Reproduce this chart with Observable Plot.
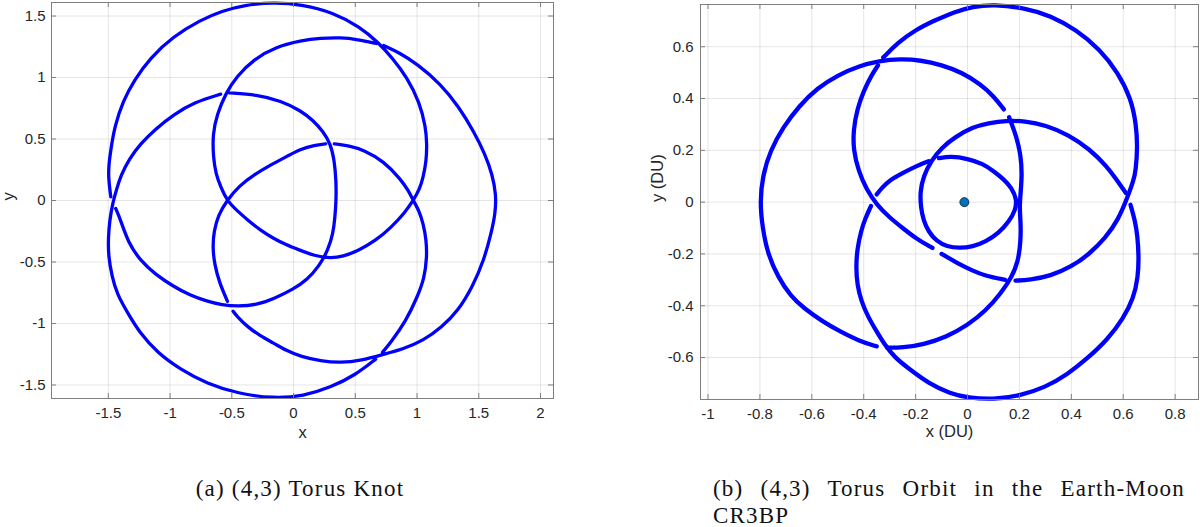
<!DOCTYPE html>
<html>
<head>
<meta charset="utf-8">
<script src="https://cdn.jsdelivr.net/npm/d3@7"></script>
<script src="https://cdn.jsdelivr.net/npm/@observablehq/plot@0.6"></script>
<style>
  html, body { margin: 0; padding: 0; background: #fff; }
  body { width: 1200px; height: 527px; overflow: hidden; position: relative; }
  #panelA, #panelB { position: absolute; top: 0; }
  #panelA { left: 0; }
  #panelB { left: 600px; }
  .cap { position: absolute; font-family: "Liberation Serif", "DejaVu Serif", serif; font-size: 23px; line-height: 27px; letter-spacing: 1.2px; color: #111; white-space: nowrap; }
</style>
</head>
<body>
<div id="panelA"></div>
<div id="panelB"></div>
<div class="cap" style="left:0; width:600px; top:475px; text-align:center;">(a) (4,3) Torus Knot</div>
<div class="cap" style="left:713px; width:472px; top:475px; text-align:justify; text-align-last:justify; white-space:normal;">(b) (4,3) Torus Orbit in the Earth-Moon</div>
<div class="cap" style="left:713px; top:502px;">CR3BP</div>
<script>
// ---------- data; null = gap at an under-crossing ----------
const knotPath = [
  [-1.48, 0.03], [-1.50, 0.19], [-1.495, 0.30], [-1.48, 0.41], [-1.45, 0.60], [-1.38, 0.81], [-1.29, 0.98],
  [-1.16, 1.16], [-0.98, 1.33], [-0.75, 1.47], [-0.58, 1.54], [-0.40, 1.59], [-0.16, 1.61], [0.06, 1.595],
  [0.32, 1.53], [0.54, 1.41], [0.68, 1.29], [0.80, 1.16], [0.92, 1.00], [1.02, 0.80], [1.07, 0.60],
  [1.08, 0.46], [1.075, 0.32], [1.05, 0.19], [1.02, 0.09], [0.97, 0], [0.90, -0.10], [0.79, -0.22],
  [0.66, -0.33], [0.52, -0.41], [0.40, -0.455], [0.30, -0.47], [0.17, -0.45], [0.04, -0.40], [-0.06, -0.36],
  [-0.16, -0.31], [-0.27, -0.24], [-0.37, -0.16], [-0.46, -0.08], [-0.54, 0], [-0.59, 0.11], [-0.63, 0.22],
  [-0.65, 0.35], [-0.655, 0.54], [-0.62, 0.70], [-0.55, 0.87], [-0.46, 1.01], [-0.32, 1.15], [-0.14, 1.25],
  [0.06, 1.30], [0.22, 1.32], [0.38, 1.325], [0.52, 1.31], [0.67, 1.277], null, [0.73, 1.26], [0.86, 1.20],
  [1.0, 1.11], [1.19, 0.95], [1.34, 0.76], [1.46, 0.56], [1.55, 0.38], [1.61, 0.21], [1.64, 0.05],
  [1.635, -0.10], [1.60, -0.27], [1.54, -0.49], [1.45, -0.70], [1.33, -0.90], [1.20, -1.03], [1.05, -1.14],
  [0.88, -1.21], [0.73, -1.25], [0.55, -1.30], [0.38, -1.32], [0.22, -1.305], [0.06, -1.27], [-0.06, -1.22],
  [-0.16, -1.16], [-0.27, -1.10], [-0.37, -1.03], [-0.455, -0.945], [-0.49, -0.90], null, [-0.535, -0.82],
  [-0.60, -0.67], [-0.64, -0.52], [-0.655, -0.38], [-0.645, -0.25], [-0.61, -0.12], [-0.54, 0], [-0.44, 0.12],
  [-0.32, 0.21], [-0.20, 0.28], [-0.08, 0.345], [0.06, 0.42], [0.17, 0.45], [0.26, 0.46], null, [0.33, 0.46],
  [0.45, 0.445], [0.57, 0.41], [0.73, 0.32], [0.87, 0.17], [0.93, 0.08], [0.97, 0], [1.02, -0.09],
  [1.05, -0.19], [1.075, -0.32], [1.08, -0.46], [1.06, -0.63], [1.0, -0.79], [0.91, -0.98], [0.79, -1.15],
  [0.72, -1.235], null, [0.665, -1.29], [0.50, -1.42], [0.30, -1.52], [0.08, -1.59], [-0.16, -1.61],
  [-0.45, -1.57], [-0.70, -1.49], [-0.92, -1.37], [-1.10, -1.24], [-1.25, -1.07], [-1.34, -0.92],
  [-1.43, -0.76], [-1.47, -0.62], [-1.50, -0.45], [-1.50, -0.30], [-1.49, -0.17], [-1.465, -0.02],
  [-1.43, 0.10], [-1.40, 0.20], [-1.33, 0.34], [-1.24, 0.46], [-1.12, 0.58], [-0.97, 0.70], [-0.80, 0.80],
  [-0.59, 0.865], null, [-0.52, 0.875], [-0.30, 0.86], [-0.10, 0.81], [0.06, 0.73], [0.16, 0.65],
  [0.24, 0.56], [0.30, 0.46], [0.33, 0.33], [0.345, 0.16], [0.345, 0], [0.335, -0.14], [0.32, -0.27],
  [0.28, -0.40], [0.21, -0.53], [0.11, -0.645], [0.0, -0.72], [-0.16, -0.80], [-0.30, -0.85], [-0.45, -0.86],
  [-0.58, -0.85], [-0.70, -0.82], [-0.84, -0.77], [-0.97, -0.70], [-1.12, -0.60], [-1.24, -0.49],
  [-1.34, -0.34], [-1.40, -0.16], [-1.44, -0.065]
];

const orbitLoopUpper = [
  [-0.325, 0.558], [-0.27, 0.615], [-0.20, 0.665], [-0.13, 0.70], [-0.05, 0.735], [0.02, 0.755], [0.10, 0.763],
  [0.22, 0.75], [0.32, 0.72], [0.42, 0.665], [0.51, 0.59], [0.58, 0.50], [0.63, 0.40], [0.65, 0.30],
  [0.655, 0.21], [0.648, 0.12], [0.64, 0.085], [0.617, 0.02], [0.58, -0.07], [0.53, -0.14], [0.47, -0.20],
  [0.40, -0.25], [0.32, -0.285], [0.24, -0.30], [0.185, -0.303], null, [0.145, -0.30], [0.07, -0.285],
  [0.02, -0.265], [-0.04, -0.235], [-0.10, -0.20], null, [-0.135, -0.177], [-0.20, -0.14], [-0.25, -0.10],
  [-0.30, -0.06], [-0.35, -0.01], [-0.39, 0.05], [-0.42, 0.12], [-0.44, 0.20], [-0.44, 0.28], [-0.425, 0.36],
  [-0.40, 0.43], [-0.37, 0.49], [-0.345, 0.528]
];

const orbitLoopLeft = [
  [0.16, 0.328], [0.19, 0.25], [0.205, 0.18], [0.21, 0.11], [0.205, 0.04], [0.20, -0.02], [0.205, -0.08],
  [0.205, -0.15], [0.195, -0.23], [0.17, -0.29], [0.13, -0.35], [0.07, -0.42], [0.0, -0.475], [-0.08, -0.52],
  [-0.17, -0.55], [-0.25, -0.562], [-0.31, -0.562], null, [-0.35, -0.557], [-0.42, -0.535], [-0.49, -0.50],
  [-0.56, -0.46], [-0.63, -0.41], [-0.68, -0.365], [-0.73, -0.29], [-0.77, -0.20], [-0.79, -0.10], [-0.80, 0.0],
  [-0.79, 0.10], [-0.76, 0.20], [-0.71, 0.29], [-0.65, 0.37], [-0.58, 0.44], [-0.50, 0.49], [-0.42, 0.525],
  [-0.34, 0.545], [-0.26, 0.553], [-0.18, 0.548], [-0.10, 0.53], [-0.02, 0.50], [0.05, 0.455], [0.10, 0.41],
  [0.14, 0.358]
];

const orbitLoopLower = [
  [0.61, 0.035], [0.576, 0.085], [0.536, 0.139], [0.47, 0.205], [0.39, 0.26], [0.30, 0.298], [0.22, 0.313],
  [0.15, 0.315], [0.08, 0.305], [0.02, 0.29], [-0.05, 0.25], [-0.10, 0.21], [-0.14, 0.16], [-0.17, 0.10],
  [-0.183, 0.04], [-0.18, -0.02], [-0.17, -0.07], [-0.15, -0.115], [-0.12, -0.15], [-0.08, -0.172],
  [-0.03, -0.178], [0.02, -0.172], [0.07, -0.153], [0.12, -0.12], [0.16, -0.075], [0.185, -0.03], [0.19, 0.01],
  [0.17, 0.055], [0.14, 0.088], [0.10, 0.12], [0.06, 0.148], [0.0, 0.168], [-0.065, 0.177], [-0.11, 0.17],
  null, [-0.15, 0.158], [-0.20, 0.138], [-0.25, 0.112], [-0.30, 0.085], [-0.33, 0.055], [-0.35, 0.03], null,
  [-0.372, -0.015], [-0.395, -0.065], [-0.41, -0.11], [-0.425, -0.18], [-0.43, -0.25], [-0.425, -0.32],
  [-0.41, -0.38], [-0.385, -0.44], [-0.35, -0.50], [-0.32, -0.55], [-0.28, -0.60], [-0.23, -0.64],
  [-0.15, -0.70], [-0.065, -0.74], [0.0, -0.755], [0.10, -0.762], [0.20, -0.748], [0.30, -0.715],
  [0.385, -0.665], [0.46, -0.605], [0.54, -0.53], [0.60, -0.45], [0.64, -0.37], [0.657, -0.29], [0.66, -0.21],
  [0.655, -0.13], [0.645, -0.07], [0.628, -0.01]
];

const earthX = [-0.01215];
const earthY = [0];

const knotXTicks = [-1.5, -1, -0.5, 0, 0.5, 1, 1.5, 2];
const knotYTicks = [-1.5, -1, -0.5, 0, 0.5, 1, 1.5];
const orbitXTicks = [-1, -0.8, -0.6, -0.4, -0.2, 0, 0.2, 0.4, 0.6, 0.8];
const orbitYTicks = [-0.6, -0.4, -0.2, 0, 0.2, 0.4, 0.6];

// ---------- helpers ----------
const toRows = pts => pts.map(p => p ? {x: p[0], y: p[1]} : {x: NaN, y: NaN});
const fmt = d => String(d);
const axisColor = "#7f7f7f";
const textColor = "#262626";

function panel({series, dots, xDomain, yDomain, xTicks, yTicks, width, height, mt, mr, mb, ml,
                xLabel, yLabel, xLabelDy, yLabelDx, yPad, strokeWidth}) {
  const pw = width - ml - mr, ph = height - mt - mb;
  const marks = [
    Plot.gridX(xTicks, {stroke: "#000", strokeOpacity: 0.1}),
    Plot.gridY(yTicks, {stroke: "#000", strokeOpacity: 0.1}),
    ...series.map(s => Plot.line(toRows(s), {x: "x", y: "y", stroke: "#0000ff", strokeWidth, curve: "basis"})),
  ];
  if (dots) marks.push(Plot.dot(dots, {x: "x", y: "y", r: 4.5, fill: "#0072bd", stroke: "#10253a", strokeWidth: 0.9}));
  marks.push(
    Plot.frame({stroke: axisColor}),
    Plot.ruleX(xTicks, {x: d => d, insetTop: ph - 5, stroke: axisColor}),
    Plot.ruleX(xTicks, {x: d => d, insetBottom: ph - 5, stroke: axisColor}),
    Plot.ruleY(yTicks, {y: d => d, insetRight: pw - 5, stroke: axisColor}),
    Plot.ruleY(yTicks, {y: d => d, insetLeft: pw - 5, stroke: axisColor}),
    Plot.axisX(xTicks, {tickSize: 0, tickPadding: 9, tickFormat: fmt, fontSize: 15, fill: textColor, label: null}),
    Plot.axisY(yTicks, {tickSize: 0, tickPadding: yPad, tickFormat: fmt, fontSize: 15, fill: textColor, label: null}),
    Plot.text([xLabel], {text: d => d, frameAnchor: "bottom", dy: xLabelDy, fontSize: 16.5, fill: textColor}),
    Plot.text([yLabel], {text: d => d, frameAnchor: "left", dx: yLabelDx, rotate: -90, fontSize: 16.5, fill: textColor})
  );
  return Plot.plot({
    width, height, marginTop: mt, marginRight: mr, marginBottom: mb, marginLeft: ml,
    x: {domain: xDomain}, y: {domain: yDomain},
    style: {fontFamily: "'Liberation Sans', Arial, sans-serif", background: "transparent", overflow: "visible"},
    marks
  });
}

const H = 445;
document.getElementById("panelA").appendChild(panel({
  series: [knotPath],
  xDomain: [-1.96, 2.105], yDomain: [-1.61, 1.61],
  xTicks: knotXTicks, yTicks: knotYTicks,
  width: 600, height: H, mt: 2, mr: 47, mb: H - 398, ml: 51,
  xLabel: "x", yLabel: "y", xLabelDy: 39, yLabelDx: -43, yPad: 6, strokeWidth: 3.3
}));

const earth = earthX.map((x, i) => ({x, y: earthY[i]}));
document.getElementById("panelB").appendChild(panel({
  series: [orbitLoopUpper, orbitLoopLeft, orbitLoopLower],
  dots: earth,
  xDomain: [-1.029, 0.89], yDomain: [-0.762, 0.763],
  xTicks: orbitXTicks, yTicks: orbitYTicks,
  width: 600, height: H, mt: 4, mr: 2, mb: H - 399, ml: 100,
  xLabel: "x (DU)", yLabel: "y (DU)", xLabelDy: 37, yLabelDx: -43, yPad: 7, strokeWidth: 4.3
}));
</script>
</body>
</html>
